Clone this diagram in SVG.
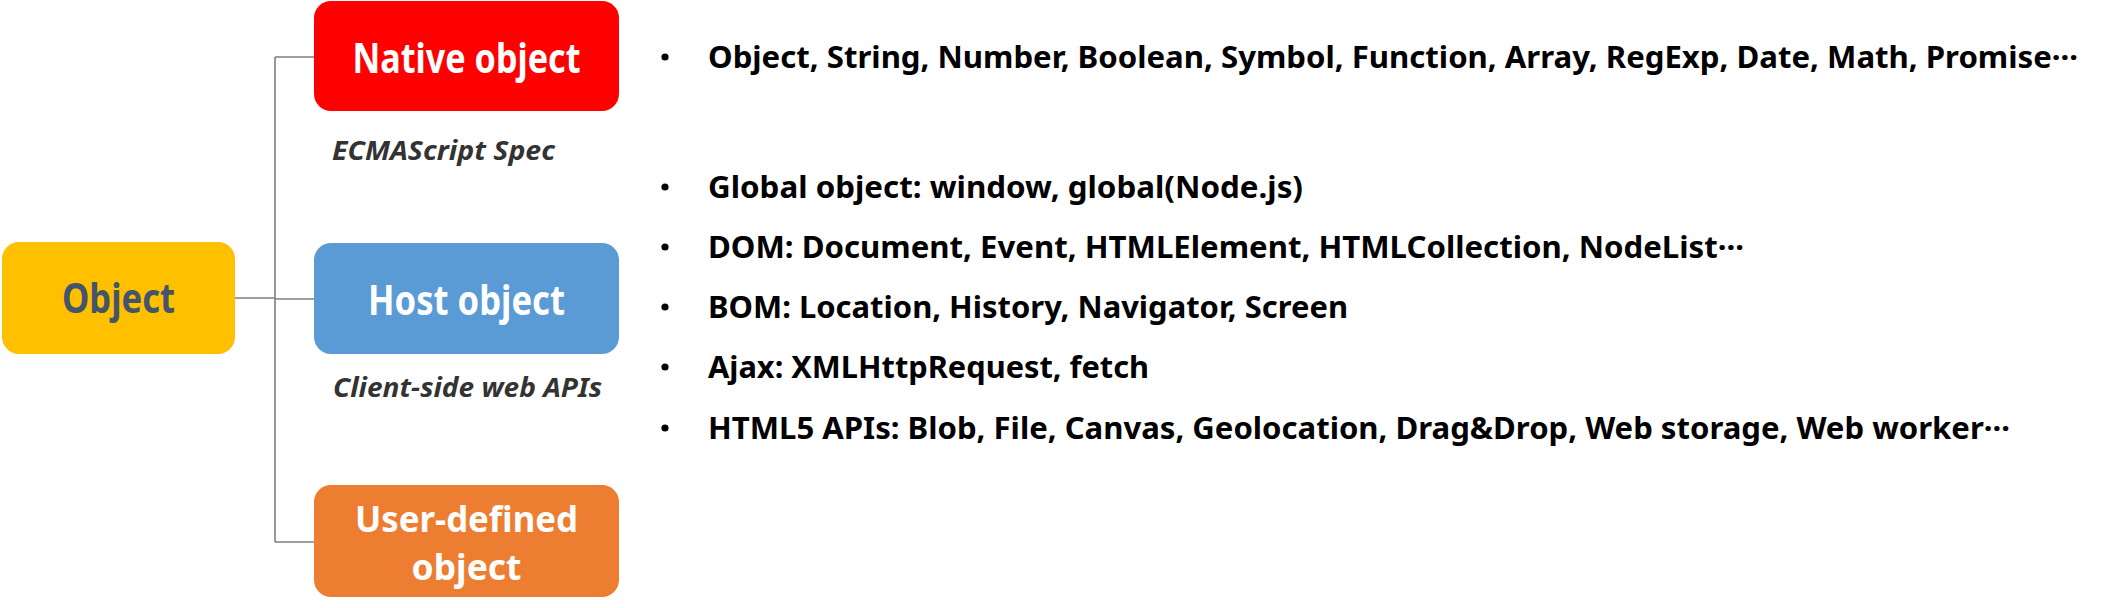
<svg xmlns="http://www.w3.org/2000/svg" width="2110" height="608" viewBox="0 0 2110 608">
<style>
.box-label{font-family:"Noto Sans","Open Sans","Liberation Sans",sans-serif;font-weight:700;font-size:41px;text-anchor:middle}
.box-label-sm{font-family:"Noto Sans","Open Sans","Liberation Sans",sans-serif;font-weight:700;font-size:35px;text-anchor:middle}
.note{font-family:"Noto Sans","Open Sans","Liberation Sans",sans-serif;font-weight:700;font-style:italic;font-size:27px;fill:#333333}
.item{font-family:"Noto Sans","Open Sans","Liberation Sans",sans-serif;font-weight:700;font-size:31px;fill:#000000}
.conn{fill:none;stroke:#7f7f7f;stroke-width:1.6}
.bullet{fill:#000000}
</style>
<rect width="2110" height="608" fill="#ffffff"/>
<g id="connectors">
<path class="conn" d="M235 298 H275"/>
<path class="conn" d="M275 57 V542"/>
<path class="conn" d="M275 57 H314"/>
<path class="conn" d="M275 299 H314"/>
<path class="conn" d="M275 542 H314"/>
</g>
<g id="node-object">
<rect x="2" y="242" width="233" height="112" rx="17" fill="#FFC000"/>
<text class="box-label" x="118.5" y="313" fill="#44546A" textLength="113" lengthAdjust="spacingAndGlyphs">Object</text>
</g>
<g id="node-native">
<rect x="314" y="1" width="305" height="110" rx="17" fill="#FF0000"/>
<text class="box-label" x="466.5" y="73" fill="#ffffff" textLength="228" lengthAdjust="spacingAndGlyphs">Native object</text>
<text class="note" x="332" y="160" textLength="223" lengthAdjust="spacingAndGlyphs">ECMAScript Spec</text>
</g>
<g id="node-host">
<rect x="314" y="243" width="305" height="111" rx="17" fill="#5B9BD5"/>
<text class="box-label" x="466.5" y="315" fill="#ffffff" textLength="197" lengthAdjust="spacingAndGlyphs">Host object</text>
<text class="note" x="333" y="397" textLength="269" lengthAdjust="spacingAndGlyphs">Client-side web APIs</text>
</g>
<g id="node-user">
<rect x="314" y="485" width="305" height="112" rx="17" fill="#ED7D31"/>
<text class="box-label-sm" fill="#ffffff"><tspan x="466.5" y="532" textLength="223" lengthAdjust="spacingAndGlyphs">User-defined</tspan><tspan x="466.5" y="580" textLength="110" lengthAdjust="spacingAndGlyphs">object</tspan></text>
</g>
<g id="native-list">
<circle class="bullet" cx="665" cy="57" r="3.6"/>
<text class="item" x="708" y="68" textLength="1370" lengthAdjust="spacingAndGlyphs">Object, String, Number, Boolean, Symbol, Function, Array, RegExp, Date, Math, Promise···</text>
</g>
<g id="host-list">
<circle class="bullet" cx="665" cy="187" r="3.6"/>
<text class="item" x="708" y="198" textLength="595" lengthAdjust="spacingAndGlyphs">Global object: window, global(Node.js)</text>
<circle class="bullet" cx="665" cy="247" r="3.6"/>
<text class="item" x="708" y="258" textLength="1036" lengthAdjust="spacingAndGlyphs">DOM: Document, Event, HTMLElement, HTMLCollection, NodeList···</text>
<circle class="bullet" cx="665" cy="307" r="3.6"/>
<text class="item" x="708" y="318" textLength="640" lengthAdjust="spacingAndGlyphs">BOM: Location, History, Navigator, Screen</text>
<circle class="bullet" cx="665" cy="367" r="3.6"/>
<text class="item" x="708" y="378" textLength="441" lengthAdjust="spacingAndGlyphs">Ajax: XMLHttpRequest, fetch</text>
<circle class="bullet" cx="665" cy="428" r="3.6"/>
<text class="item" x="708" y="439" textLength="1302" lengthAdjust="spacingAndGlyphs">HTML5 APIs: Blob, File, Canvas, Geolocation, Drag&amp;Drop, Web storage, Web worker···</text>
</g>
</svg>
